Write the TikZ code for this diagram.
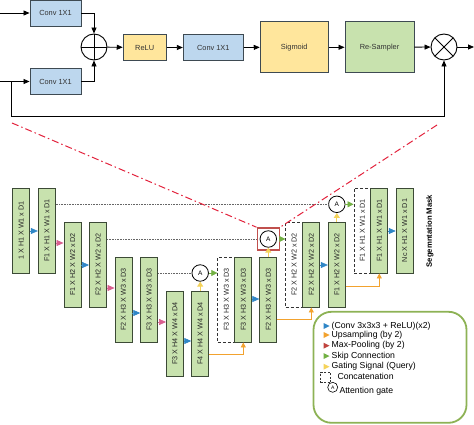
\documentclass[tikz,border=0pt]{standalone}
\usepackage{fontspec}
\setmainfont{Liberation Sans}
\usepackage{graphicx}
\usetikzlibrary{arrows.meta, positioning, calc}
\usepackage{xcolor}

\definecolor{boxblue}{HTML}{BDD7EE}
\definecolor{boxyellow}{HTML}{FFE69C}
\definecolor{boxgreen}{HTML}{C8E2AE}
\definecolor{edgegrey}{HTML}{3E4A52}
\definecolor{blkedge}{HTML}{3C4A36}
\definecolor{convblue}{HTML}{2F86C6}
\definecolor{poolpink}{HTML}{D9608F}
\definecolor{poolred}{HTML}{C0443E}
\definecolor{uporange}{HTML}{F2A22E}
\definecolor{skipgreen}{HTML}{72B043}
\definecolor{gateyellow}{HTML}{F5D35A}
\definecolor{hlred}{HTML}{C0504D}
\definecolor{zoomred}{HTML}{E2223C}
\definecolor{leggreen}{HTML}{8DB255}

\begin{document}
\begin{tikzpicture}[x=1pt, y=-1pt,
  op/.style={draw=edgegrey, line width=0.9pt, inner sep=0pt, text=black!80,
    font=\fontsize{7.4}{9}\selectfont},
  sum/.style={circle, draw, line width=0.9pt, minimum size=26pt, inner sep=0pt},
  flow/.style={-{Triangle[length=6pt,width=5pt]}, line width=0.8pt},
  blk/.style={draw=blkedge, fill=boxgreen, line width=0.9pt, minimum width=17pt,
    minimum height=85pt, inner sep=0pt, text=black!85, font=\fontsize{7.2}{8}\selectfont},
  cat/.style={blk, draw=black!80, fill=white, dash pattern=on 3pt off 2pt},
  att/.style={circle, draw, line width=0.8pt, fill=white, minimum size=16.5pt,
    inner sep=0pt, font=\fontsize{6.5}{7}\selectfont},
  conv/.style={draw=convblue, line width=0.6pt, -{Triangle[length=7pt,width=6pt]}},
  pool/.style={draw=poolpink, line width=0.6pt, -{Triangle[length=7pt,width=6pt]}},
  upsmp/.style={draw=uporange, line width=0.8pt, -{Triangle[length=5pt,width=5pt]}},
  gate/.style={draw=gateyellow, line width=1pt, -{Triangle[length=5pt,width=6pt]}},
  skip/.style={draw=skipgreen, line width=0.6pt, -{Triangle[length=6pt,width=6pt]}},
  cpy/.style={draw=black!60, densely dotted, line width=0.6pt},
  legtext/.style={anchor=west, inner sep=0pt, font=\fontsize{8.7}{10}\selectfont}]

\useasboundingbox (0,0) rectangle (474,425);

% Attention gate
\node[op, fill=boxblue, minimum width=51pt, minimum height=26pt] (cin1) at (55.5,13) {Conv 1X1};
\node[op, fill=boxblue, minimum width=51pt, minimum height=26pt] (cin2) at (55.5,81.5) {Conv 1X1};
\node[sum, path picture={
    \draw[line width=0.8pt] (path picture bounding box.north) -- (path picture bounding box.south);
    \draw[line width=0.8pt] (path picture bounding box.west) -- (path picture bounding box.east);}]
  (plus) at (94,47) {};
\node[op, fill=boxyellow, minimum width=43pt, minimum height=26pt] (relu) at (144.7,47.5) {ReLU};
\node[op, fill=boxblue, minimum width=60pt, minimum height=26pt] (conv) at (213.3,47.5) {Conv 1X1};
\node[op, fill=boxyellow, minimum width=68pt, minimum height=51pt] (sigm) at (294.2,47.3) {Sigmoid};
\node[op, fill=boxgreen, minimum width=69pt, minimum height=51pt] (resamp) at (379.5,47.3) {Re-Sampler};
\node[sum, path picture={
    \draw[line width=0.8pt] (path picture bounding box.north west) -- (path picture bounding box.south east);
    \draw[line width=0.8pt] (path picture bounding box.south west) -- (path picture bounding box.north east);}]
  (times) at (444,47) {};

\coordinate (in1) at (0,13);
\coordinate (in2) at (0,81.5);
\coordinate (sk) at (11.7,81.5);
\coordinate (skb) at (11.7,116);
\coordinate (out) at (474,47);

\draw[flow] (in1) -- (cin1);
\draw[flow] (in2) -- (cin2);
\draw[flow] (cin1.east) -| (plus.north);
\draw[flow] (cin2.east) -| (plus.south);
\draw[flow] (plus) -- (relu);
\draw[flow] (relu) -- (conv);
\draw[flow] (conv) -- (sigm);
\draw[flow] (sigm) -- (resamp);
\draw[flow] (resamp) -- (times);
\draw[flow] (times) -- (out);
\draw[flow] (sk) -- (skb) -| (times.south);

% Encoder
\node[blk] (b1) at (21.2,230.5) {\rotatebox{90}{1 X H1 X W1 x D1}};
\node[blk] (b2) at (46.8,230.5) {\rotatebox{90}{F1 X H1 X W1 x D1}};
\node[blk] (b3) at (72.5,264.5) {\rotatebox{90}{F1 X H2 X W2 x D2}};
\node[blk] (b4) at (98,264.5) {\rotatebox{90}{F2 X H2 X W2 x D2}};
\node[blk] (b5) at (123.5,299.5) {\rotatebox{90}{F2 X H3 X W3 x D3}};
\node[blk] (b6) at (149.2,299.5) {\rotatebox{90}{F3 X H3 X W3 x D3}};
\node[blk] (b7) at (175,333.5) {\rotatebox{90}{F3 X H4 X W4 x D4}};
\node[blk] (b8) at (200.2,333.5) {\rotatebox{90}{F4 X H4 X W4 x D4}};

% Decoder
\node[cat] (c3) at (226.3,299.5) {\rotatebox{90}{F3 X H3 X W3 x D3}};
\node[blk] (b9) at (243.3,299.5) {\rotatebox{90}{F3 X H3 X W3 x D3}};
\node[blk] (b10) at (268.3,299.5) {\rotatebox{90}{F2 X H3 X W3 x D3}};
\node[cat] (c2) at (294.2,264.5) {\rotatebox{90}{F2 X H2 X W2 x D2}};
\node[blk] (b11) at (311.3,264.5) {\rotatebox{90}{F2 X H2 X W2 x D2}};
\node[blk] (b12) at (336.8,264.5) {\rotatebox{90}{F1 X H2 X W2 x D2}};
\node[cat] (c1) at (362.5,230.5) {\rotatebox{90}{F1 X H1 X W1 x D1}};
\node[blk] (b13) at (379.3,230.5) {\rotatebox{90}{F1 X H1 X W1 x D1}};
\node[blk] (b14) at (404.7,230.5) {\rotatebox{90}{Nc X H1 X W1 x D1}};

\node[font=\bfseries\fontsize{7.7}{8}\selectfont, inner sep=0pt] (mask) at (430,231)
  {\rotatebox{90}{Segemntation Mask}};

% Attention gates
\node[att] (a1) at (200.2,273) {A};
\node[att] (a2) at (268.3,239) {A};
\node[att] (a3) at (336.8,204.3) {A};
\node[draw=hlred, line width=1.5pt, minimum size=22pt, inner sep=0pt] (hl) at (a2) {};

% Skip lines
\draw[cpy] (b2.east |- a3) -- (a3.west);
\draw[cpy] (b4.east |- a2) -- (hl.west);
\draw[cpy] (b6.east |- a1) -- (a1.west);

% Block arrows
\draw[conv] (b1.east |- 0,231) -- (b2.west |- 0,231);
\draw[conv] (b3.east |- 0,265) -- (b4.west |- 0,265);
\draw[conv] (b5.east |- 0,313) -- (b6.west |- 0,313);
\draw[conv] (b7.east |- 0,341) -- (b8.west |- 0,341);
\draw[conv] (b9.east |- 0,299) -- (b10.west |- 0,299);
\draw[conv] (b11.east |- 0,265) -- (b12.west |- 0,265);
\draw[conv] (b13.east |- 0,231) -- (b14.west |- 0,231);
\draw[pool] (b2.east |- 0,243) -- (b3.west |- 0,243);
\draw[pool] (b4.east |- 0,288) -- (b5.west |- 0,288);
\draw[pool] (b6.east |- 0,322) -- (b7.west |- 0,322);

\draw[gate] (b8.north) -- (a1.south);
\draw[gate] (b10.north) -- (a2.south);
\draw[gate] (b12.north) -- (a3.south);
\draw[skip] (a1.east) -- (c3.west |- a1);
\draw[skip] (hl.east) -- (c2.west |- a2);
\draw[skip] (a3.east) -- (c1.west |- a3);

\draw[upsmp] (b8.east |- 0,354) -| (b9.south);
\draw[upsmp] (b10.east |- 0,319) -| (b11.south);
\draw[upsmp] (b12.east |- 0,286.7) -| (b13.south);

% Zoom lines
\coordinate (zl) at (12,123);
\coordinate (zr) at (437,125);
\draw[zoomred, line width=1pt, dash pattern=on 7pt off 3pt on 1.5pt off 3pt] (zl) -- (hl.north west);
\draw[zoomred, line width=1pt, dash pattern=on 7pt off 3pt on 1.5pt off 3pt] (zr) -- (hl.north east);

% Legend
\node[draw=leggreen, line width=1.8pt, rounded corners=18pt, minimum width=153pt,
  minimum height=111pt] (leg) at (390,367.3) {};
\fill[convblue] (323.5,323) -- (329.5,326) -- (323.5,329) -- cycle;
\fill[uporange] (323.5,332) -- (329.5,335) -- (323.5,338) -- cycle;
\fill[poolred] (323.5,342.7) -- (329.5,345.7) -- (323.5,348.7) -- cycle;
\fill[skipgreen] (323.5,353) -- (329.5,356) -- (323.5,359) -- cycle;
\fill[gateyellow] (323.5,363.7) -- (329.5,366.7) -- (323.5,369.7) -- cycle;
\node[legtext] (l1) at (331.5,326) {(Conv 3x3x3 + ReLU)(x2)};
\node[legtext] (l2) at (331.5,335) {Upsampling (by 2)};
\node[legtext] (l3) at (331.5,345.7) {Max-Pooling (by 2)};
\node[legtext] (l4) at (331.5,356) {Skip Connection};
\node[legtext] (l5) at (331.5,366.7) {Gating Signal (Query)};
\node[draw=black!80, dash pattern=on 2pt off 1.5pt, line width=0.7pt, minimum size=10pt,
  inner sep=0pt] (lcat) at (325.7,377.7) {};
\node[legtext] (l6) at (337.3,376.7) {Concatenation};
\node[circle, draw, line width=0.6pt, minimum size=10pt, inner sep=0pt,
  font=\fontsize{5}{5}\selectfont] (latt) at (332.7,387.3) {A};
\node[legtext] (l7) at (339.3,391.5) {Attention gate};

\end{tikzpicture}
\end{document}
